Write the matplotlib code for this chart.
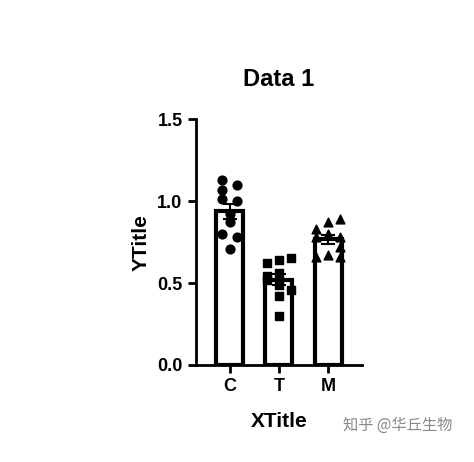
import numpy as np
import matplotlib
matplotlib.use('Agg')
import matplotlib.pyplot as plt

groups = ['C', 'T', 'M']
c_vals = [1.13, 1.10, 1.07, 1.01, 1.00, 0.92, 0.87, 0.80, 0.78, 0.71]
t_vals = [0.62, 0.64, 0.65, 0.54, 0.56, 0.49, 0.46, 0.42, 0.30, 0.52]
m_vals = [0.83, 0.87, 0.89, 0.78, 0.80, 0.78, 0.66, 0.67, 0.66, 0.72]
c_off = [-0.3, 0.3, -0.3, -0.3, 0.3, 0, 0, -0.3, 0.3, 0]
t_off = [-0.5, 0, 0.5, -0.5, 0, 0, 0.5, 0, 0, -0.5]
m_off = [-0.5, 0, 0.5, -0.5, 0, 0.5, -0.5, 0, 0.5, 0.5]
markers = ['o', 's', '^']

plt.rcParams['font.family'] = 'Liberation Sans'
plt.rcParams['font.weight'] = 'bold'
fig = plt.figure(figsize=(4.74, 4.62), dpi=100)
ax = fig.add_axes([0.413, 0.21, 0.351, 0.532])

for i, (vals, offs) in enumerate(zip([c_vals, t_vals, m_vals], [c_off, t_off, m_off])):
    vals = np.array(vals)
    mean = vals.mean()
    sem = vals.std(ddof=1) / np.sqrt(len(vals))
    ax.bar(i, mean, width=0.55, color='white', edgecolor='black', linewidth=3, zorder=1)
    ax.scatter(i + np.array(offs) * 0.5, vals, marker=markers[i], s=40, color='black', zorder=3)
    ax.errorbar(i, mean, yerr=sem, color='black', capsize=5, lw=1.5, capthick=1.5, zorder=4)

ax.set_xlim(-0.69, 2.69)
ax.set_ylim(0, 1.5)
ax.set_yticks([0, 0.5, 1.0, 1.5])
ax.set_yticklabels(['0.0', '0.5', '1.0', '1.5'])
ax.set_xticks(range(3))
ax.set_xticklabels(groups)
for s in ['top', 'right']:
    ax.spines[s].set_visible(False)
for s in ['left', 'bottom']:
    ax.spines[s].set_linewidth(2)
ax.tick_params(width=2, length=6, labelsize=13)
ax.set_xlabel('XTitle', fontsize=15, fontweight='bold', labelpad=12)
ax.set_ylabel('YTitle', fontsize=15, fontweight='bold', labelpad=5)
ax.set_title('Data 1', fontsize=17, fontweight='bold', pad=24)
fig.text(0.955, 0.07, '知乎 @华丘生物', fontsize=11, color='#888888', ha='right',
         family=['Noto Sans CJK SC', 'DejaVu Sans'], fontweight='normal')
fig.savefig('out.png', dpi=100)
